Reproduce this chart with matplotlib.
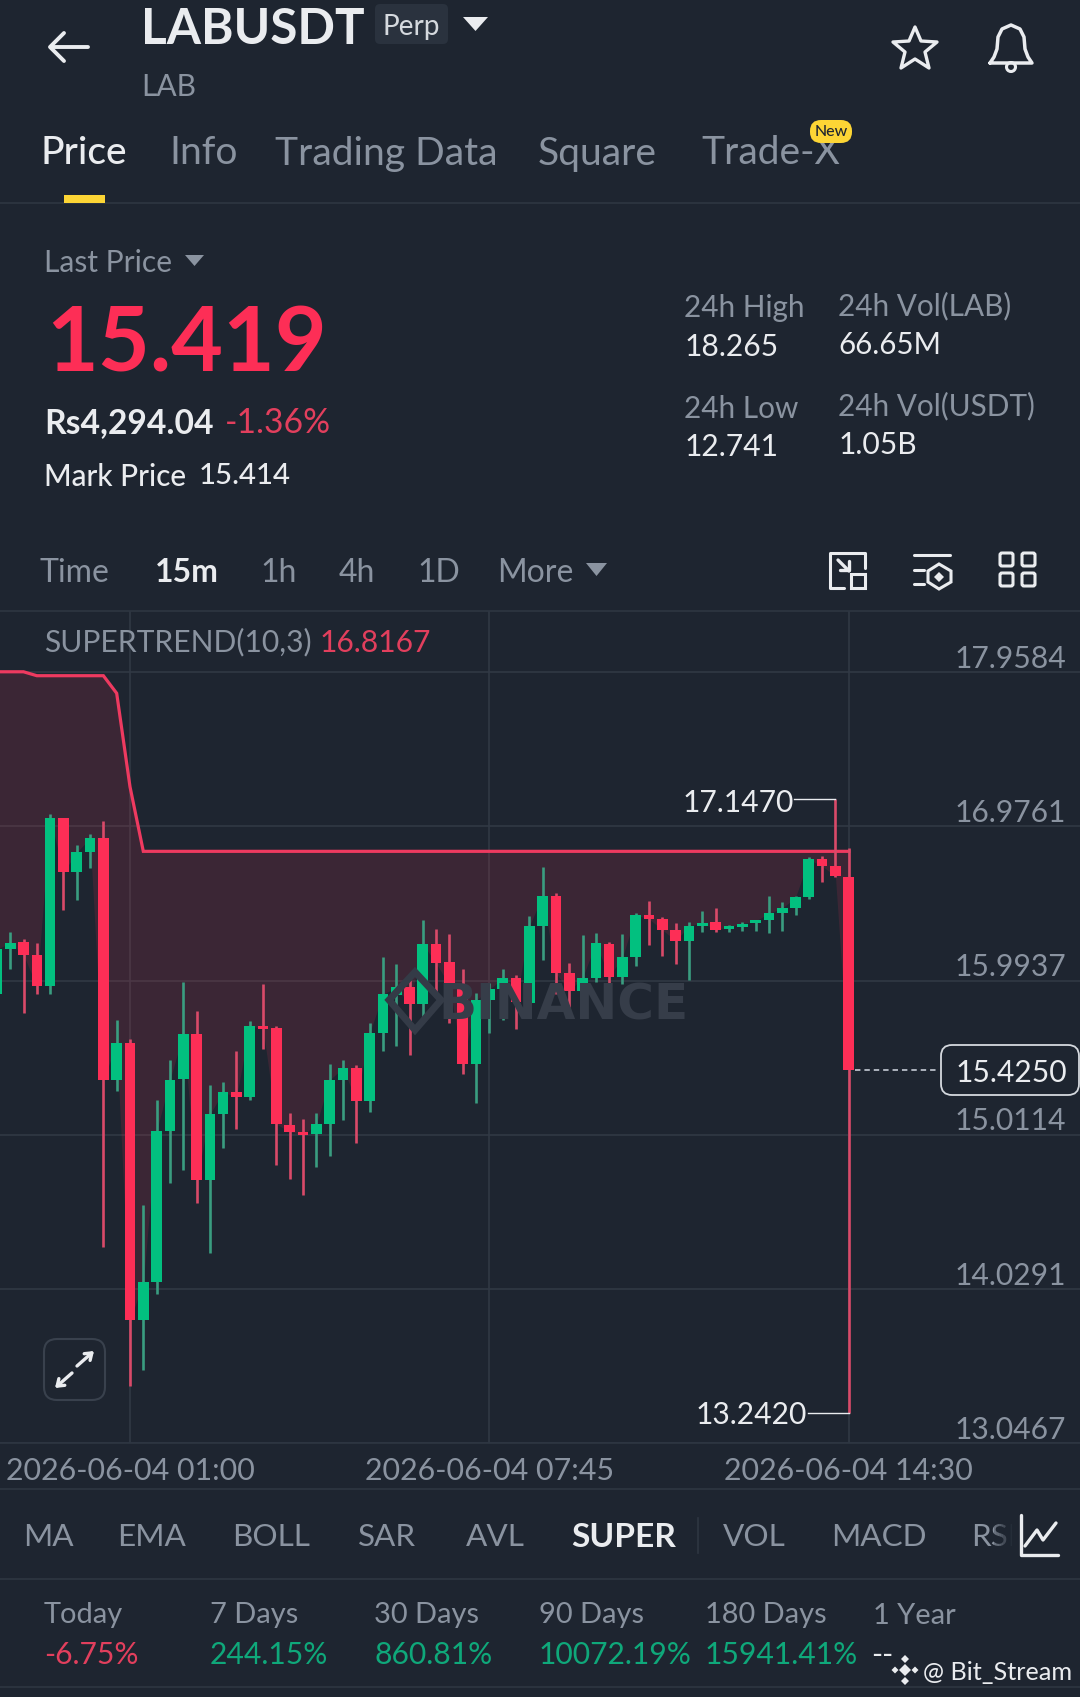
import matplotlib
matplotlib.use("Agg")
import matplotlib.pyplot as plt
from matplotlib.patches import FancyBboxPatch, Polygon, Rectangle, Circle, FancyArrowPatch

plt.rcParams['font.family'] = ['Lato', 'DejaVu Sans']

# ---------- data ----------
index = list(range(-10, 55))   # 15 minute candles, 0 = 2026-06-04 01:00
opens = [15.911, 16.193, 16.239, 16.158, 15.957, 17.027, 16.684, 16.810, 16.901, 15.362,
         15.594, 13.831, 14.073, 15.035, 15.370, 15.654, 14.723, 15.143, 15.287, 15.252,
         15.702, 15.690, 15.075, 15.025, 15.015, 15.078, 15.361, 15.437, 15.227, 15.658,
         15.902, 15.951, 15.845, 16.227, 16.110, 15.957, 15.465, 15.868, 15.938, 16.010,
         15.853, 16.341, 16.532, 16.042, 15.925, 16.008, 16.227, 16.019, 16.146, 16.411,
         16.386, 16.316, 16.244, 16.341, 16.369, 16.322, 16.335, 16.363, 16.377, 16.426,
         16.456, 16.524, 16.766, 16.723, 16.655]
highs = [16.264, 16.302, 16.256, 16.234, 17.052, 17.027, 16.856, 16.926, 17.012, 15.740,
         15.622, 14.564, 15.231, 15.488, 15.987, 15.798, 15.332, 15.350, 15.546, 15.735,
         15.969, 15.702, 15.148, 15.110, 15.148, 15.460, 15.488, 15.456, 15.722, 16.146,
         16.097, 15.998, 16.380, 16.320, 16.290, 16.065, 15.913, 15.980, 16.065, 16.029,
         16.405, 16.719, 16.549, 16.108, 16.284, 16.299, 16.237, 16.288, 16.422, 16.501,
         16.401, 16.358, 16.369, 16.439, 16.454, 16.350, 16.365, 16.380, 16.535, 16.492,
         16.535, 16.783, 16.785, 17.147, 16.836]
lows = [15.900, 16.067, 15.785, 15.911, 15.911, 16.440, 16.508, 16.712, 14.300, 15.289,
        13.411, 13.512, 13.998, 14.708, 14.786, 14.577, 14.257, 14.929, 15.048, 15.231,
        15.559, 14.821, 14.728, 14.630, 14.809, 14.877, 15.106, 14.957, 15.155, 15.545,
        15.579, 15.520, 15.722, 15.906, 15.722, 15.399, 15.216, 15.658, 15.743, 15.686,
        15.821, 16.125, 15.908, 15.823, 15.921, 15.987, 15.775, 15.970, 16.087, 16.220,
        16.150, 16.099, 15.998, 16.305, 16.301, 16.301, 16.310, 16.310, 16.295, 16.312,
        16.411, 16.511, 16.624, 16.651, 13.242]
closes = [16.193, 16.234, 16.158, 15.957, 17.027, 16.684, 16.810, 16.901, 15.362, 15.594,
          13.831, 14.073, 15.035, 15.362, 15.654, 14.723, 15.143, 15.284, 15.252, 15.705,
          15.687, 15.080, 15.030, 15.013, 15.078, 15.361, 15.437, 15.227, 15.658, 15.906,
          15.951, 15.845, 16.227, 16.104, 15.964, 15.465, 15.868, 15.938, 16.008, 15.857,
          16.341, 16.532, 16.042, 15.927, 16.012, 16.231, 16.019, 16.142, 16.411, 16.386,
          16.316, 16.248, 16.341, 16.363, 16.316, 16.335, 16.356, 16.373, 16.422, 16.454,
          16.524, 16.766, 16.723, 16.658, 15.425]
supertrend = [17.960, 17.960, 17.960, 17.935, 17.935, 17.935, 17.935, 17.935, 17.935, 17.823,
              17.228, 16.8167, 16.8167, 16.8167, 16.8167, 16.8167, 16.8167, 16.8167, 16.8167, 16.8167,
              16.8167, 16.8167, 16.8167, 16.8167, 16.8167, 16.8167, 16.8167, 16.8167, 16.8167, 16.8167,
              16.8167, 16.8167, 16.8167, 16.8167, 16.8167, 16.8167, 16.8167, 16.8167, 16.8167, 16.8167,
              16.8167, 16.8167, 16.8167, 16.8167, 16.8167, 16.8167, 16.8167, 16.8167, 16.8167, 16.8167,
              16.8167, 16.8167, 16.8167, 16.8167, 16.8167, 16.8167, 16.8167, 16.8167, 16.8167, 16.8167,
              16.8167, 16.8167, 16.8167, 16.8167, 16.8167]
price_ticks = [17.9584, 16.9761, 15.9937, 15.0114, 14.0291, 13.0467]
time_positions = [0, 27, 54]
time_labels = ['2026-06-04 01:00', '2026-06-04 07:45', '2026-06-04 14:30']
interval_names = ['Time', '15m', '1h', '4h', '1D', 'More']
indicator_names = ['MA', 'EMA', 'BOLL', 'SAR', 'AVL', 'SUPER', 'VOL', 'MACD', 'RSI']
period_names = ['Today', '7 Days', '30 Days', '90 Days', '180 Days', '1 Year']
period_returns = ['-6.75%', '244.15%', '860.81%', '10072.19%', '15941.41%', '--']

# ---------- colours ----------
BG = '#1e2530'
RULE = '#2e3642'
GRID = '#323a46'
GRAY = '#8a93a0'
WHITE = '#eaecef'
RED = '#fd2e56'
GREEN = '#02c07f'
WICK_R = '#d94a69'
WICK_G = '#3a9d80'
TXT_R = '#e23f5d'
TXT_G = '#0fa87a'
YEL = '#fcd535'

W, H = 1080, 1697
fig = plt.figure(figsize=(W / 100, H / 100), dpi=100, facecolor=BG)

# ---------- chart ----------
TOP, BOT = 611.0, 1443.4
Y_PER_UNIT = 157.05
SP = 13.31
ax = fig.add_axes([0, 1 - BOT / H, 1, (BOT - TOP) / H], facecolor='none')
ax.set_xlim(-130 / SP, (W - 130) / SP)
ax.set_ylim(16.9761 - (BOT - 826.3) / Y_PER_UNIT, 16.9761 + (826.3 - TOP) / Y_PER_UNIT)
for s in ax.spines.values():
    s.set_visible(False)
ax.set_xticks([])
ax.set_yticks([])
for p in price_ticks:
    ax.axhline(p, color=GRID, lw=1.1, zorder=1)
for t in time_positions:
    ax.axvline(t, color=GRID, lw=1.1, zorder=1)

ax.fill_between(index, supertrend, closes, where=[s > c for s, c in zip(supertrend, closes)],
                color=RED, alpha=0.135, lw=0, zorder=2)
ax.plot(index, supertrend, color='#ee3a60', lw=2.3, zorder=5, solid_joinstyle='miter')

for i, o, h, l, c in zip(index, opens, highs, lows, closes):
    up = c >= o
    ax.vlines(i, l, h, color=WICK_G if up else WICK_R, lw=1.9, zorder=6)
    ax.bar(i, max(abs(c - o), 0.018), bottom=min(o, c), width=0.8,
           color=GREEN if up else RED, lw=0, zorder=7)

# high / low call-outs
hi_i = index[highs.index(max(highs))]
lo_i = index[lows.index(min(lows))]
ax.plot([hi_i, hi_i - 3.15], [max(highs), max(highs)], color=WHITE, lw=1.0, zorder=8)
ax.plot([lo_i, lo_i - 3.05], [min(lows), min(lows)], color=WHITE, lw=1.0, zorder=8)
ax.plot([index[-1] + 0.5, index[-1] + 6.6], [closes[-1], closes[-1]], color='#b8bec8', lw=1.3,
        dashes=(3, 2.2), zorder=8)

# ---------- interface overlay in pixel coordinates ----------
ui = fig.add_axes([0, 0, 1, 1], facecolor='none')
ui.set_xlim(0, W)
ui.set_ylim(H, 0)
ui.axis('off')


def T(x, y, s, px, color=GRAY, weight='normal', ha='left', **kw):
    return ui.text(x, y, s, fontsize=px * 0.72, color=color, fontweight=weight, ha=ha,
                   va='center_baseline', **kw)


def rule(y):
    ui.plot([0, W], [y, y], color=RULE, lw=1.2, zorder=1)


def tri(x0, x1, y0, y1, color):
    ui.add_patch(Polygon([(x0, y0), (x1, y0), ((x0 + x1) / 2, y1)], closed=True, color=color, lw=0))


def L(xs, ys, color=WHITE, lw=2.4, zorder=2):
    ui.plot(xs, ys, color=color, lw=lw, solid_capstyle='round', solid_joinstyle='round', zorder=zorder)


# header
L([51, 88], [47, 47], lw=2.8)
L([64, 50, 64], [33, 47, 61], lw=2.8)
T(141, 26, 'LABUSDT', 49.4, WHITE, 'bold')
ui.add_patch(FancyBboxPatch((375, 4), 73, 40, boxstyle='round,pad=0,rounding_size=5', fc='#2a323e', ec='none'))
T(411, 25, 'Perp', 28, '#d5d9de', ha='center')
tri(463, 488, 17, 31, WHITE)
T(141, 85, 'LAB', 30, GRAY)
star = [(915, 27), (921, 41), (937, 42), (925, 52), (929, 68), (915, 59), (901, 68), (905, 52), (893, 42), (909, 41)]
ui.add_patch(Polygon(star, closed=True, fc='none', ec=WHITE, lw=2.4, joinstyle='round'))
bell_x = [990, 994, 997, 998, 1002, 1011, 1020, 1024, 1025, 1028, 1032, 990]
bell_y = [63, 57, 49, 37, 29, 25, 29, 37, 49, 57, 63, 63]
L(bell_x, bell_y, lw=2.5)
ui.add_patch(Circle((1011, 67), 4.5, fc='none', ec=WHITE, lw=2.2))

# tabs
T(41, 150, 'Price', 39, WHITE, 'medium')
T(169, 150, 'Info', 39, GRAY)
T(275, 150, 'Trading Data', 39, GRAY)
T(538, 150, 'Square', 39, GRAY)
T(701, 150, 'Trade-X', 39, GRAY)
ui.add_patch(FancyBboxPatch((810, 120), 42, 23, boxstyle='round,pad=0,rounding_size=11', fc=YEL, ec='none', zorder=3))
T(831, 131, 'New', 16, '#1e2530', 'medium', ha='center', zorder=4)
ui.add_patch(Rectangle((64, 195), 41, 7.5, fc=YEL, ec='none', zorder=3))
rule(203)

# price block
T(44, 260, 'Last Price', 30, GRAY)
tri(185, 204, 255, 266, GRAY)
T(46, 338, '15.419', 89.5, RED, 'bold')
T(44, 420, 'Rs4,294.04', 33.6, WHITE, 'bold')
T(225, 420, '-1.36%', 33.6, TXT_R)
T(44, 474, 'Mark Price', 29.6, WHITE, 'medium')
T(199, 474, '15.414', 29.4, WHITE, 'medium')
T(684, 306, '24h High', 29.8, GRAY)
T(685, 345, '18.265', 30, WHITE)
T(684, 406, '24h Low', 29.8, GRAY)
T(685, 445, '12.741', 30, WHITE)
T(838, 304, '24h Vol(LAB)', 29.8, GRAY)
T(838, 343, '66.65M', 29.5, WHITE)
T(838, 404, '24h Vol(USDT)', 29.8, GRAY)
T(839, 442, '1.05B', 30, WHITE)

# interval row
for x, name in zip([40, 155, 260, 339, 417, 497], interval_names):
    if name == '15m':
        T(x, 570, name, 32, WHITE, 'bold')
    else:
        T(x, 570, name, 32, GRAY)
tri(586, 607, 563, 576, GRAY)
rule(611)
# toolbar icons
L([847, 830, 830, 844], [553, 553, 588, 588], lw=2.2)
L([847, 865, 865], [553, 553, 568], lw=2.2)
ui.add_patch(Rectangle((851, 574), 14, 14, fc='none', ec=WHITE, lw=2.2))
L([838, 849], [560, 571], lw=2.4)
L([849, 849, 840], [561, 570, 570], lw=2.4)
L([914, 950], [555, 555], lw=2.2)
L([914, 924], [570, 570], lw=2.2)
L([914, 924], [584, 584], lw=2.2)
hexa = [(939, 564), (951, 571), (951, 582), (939, 589), (928, 582), (928, 571)]
ui.add_patch(Polygon(hexa, closed=True, fc='none', ec=WHITE, lw=2.2))
ui.add_patch(Polygon([(939, 572), (944, 577), (939, 582), (934, 577)], closed=True, fc=WHITE, lw=0))
for x, y in [(1000, 553), (1022, 553), (1000, 573), (1022, 573)]:
    ui.add_patch(FancyBboxPatch((x, y), 13, 13, boxstyle='round,pad=0,rounding_size=2', fc='none', ec=WHITE, lw=2.2))

# chart annotation text
T(44, 640, 'SUPERTREND(10,3)', 30, GRAY)
T(320, 640, '16.8167', 30, TXT_R)
for p in price_ticks:
    y = 826.3 + (16.9761 - p) * Y_PER_UNIT
    T(1066, y - 16, f'{p:.4f}', 30, GRAY, ha='right')
T(794, 800, f'{max(highs):.4f}', 30, WHITE, ha='right')
T(807, 1413, f'{min(lows):.4f}', 30, WHITE, ha='right')
ui.add_patch(FancyBboxPatch((941, 1045), 138, 50, boxstyle='round,pad=0,rounding_size=11', fc=BG, ec='#d5d9de', lw=1.3, zorder=5))
T(1011, 1071, f'{closes[-1]:.4f}', 30, WHITE, ha='center', zorder=6)

# watermark
ui.add_patch(Polygon([(415, 972), (441, 1000), (415, 1030), (389, 1000)], closed=True, fc='none', ec='#343b47', lw=5, zorder=0))
ui.text(438, 1000, 'BINANCE', fontsize=50 * 0.72, color='#363d49', fontweight='bold', family=['DejaVu Sans'],
        ha='left', va='center_baseline', zorder=0)

# full-screen button
ui.add_patch(FancyBboxPatch((44, 1339), 61, 61, boxstyle='round,pad=0,rounding_size=13', fc='none', ec='#39414d', lw=1.5))
for a, b in [((72, 1373), (55, 1388)), ((77, 1366), (94, 1351))]:
    ui.add_patch(FancyArrowPatch(a, b, arrowstyle='->,head_length=4.5,head_width=3.2', color=WHITE, lw=2.4, shrinkA=0, shrinkB=0))

# time axis
for t, lab in zip(time_positions, time_labels):
    T(130 + t * SP, 1469, lab, 30.4, GRAY, ha='center')
rule(1443)
rule(1489)

# indicators
for x, name in zip([23, 117, 232, 358, 466, 571, 723, 831, 971], indicator_names):
    if name == 'SUPER':
        T(x, 1535, name, 33.5, WHITE, 'bold')
    else:
        T(x, 1535, name, 31.5, GRAY)
ui.plot([698, 698], [1518, 1553], color=RULE, lw=1.2)
for k in range(8):
    ui.add_patch(Rectangle((994 + 2.3 * k, 1510), 2.4, 50, fc=BG, ec='none', alpha=0.3 + 0.09 * k, zorder=3))
ui.add_patch(Rectangle((1012, 1510), 68, 50, fc=BG, ec='none', zorder=3))
L([1021, 1021, 1058], [1515, 1555, 1555], lw=2.4, zorder=4)
L([1025, 1037, 1043, 1056], [1546, 1530, 1540, 1523], lw=2.4, zorder=4)
tri(1023, 1032, 1517, 1527, WHITE)
rule(1579)

# periods
xs = [44, 210, 374, 539, 705, 873]
for x, name in zip(xs, period_names):
    T(x, 1613, name, 29, GRAY)
for x, val in zip(xs, period_returns):
    col = WHITE if val == '--' else (TXT_R if val.startswith('-') else TXT_G)
    T(x - (2 if val == '--' else 0), 1652, val, 30, col)
rule(1687)

# credit
for cx, cy, r in [(905, 1670, 6), (895, 1670, 3.5), (915, 1670, 3.5), (905, 1659, 4), (905, 1681, 4)]:
    ui.add_patch(Polygon([(cx, cy - r), (cx + r, cy), (cx, cy + r), (cx - r, cy)], closed=True, fc=WHITE, lw=0))
T(923, 1670, '@ Bit_Stream', 25.3, WHITE)

fig.savefig('out.png', dpi=100, facecolor=BG)
